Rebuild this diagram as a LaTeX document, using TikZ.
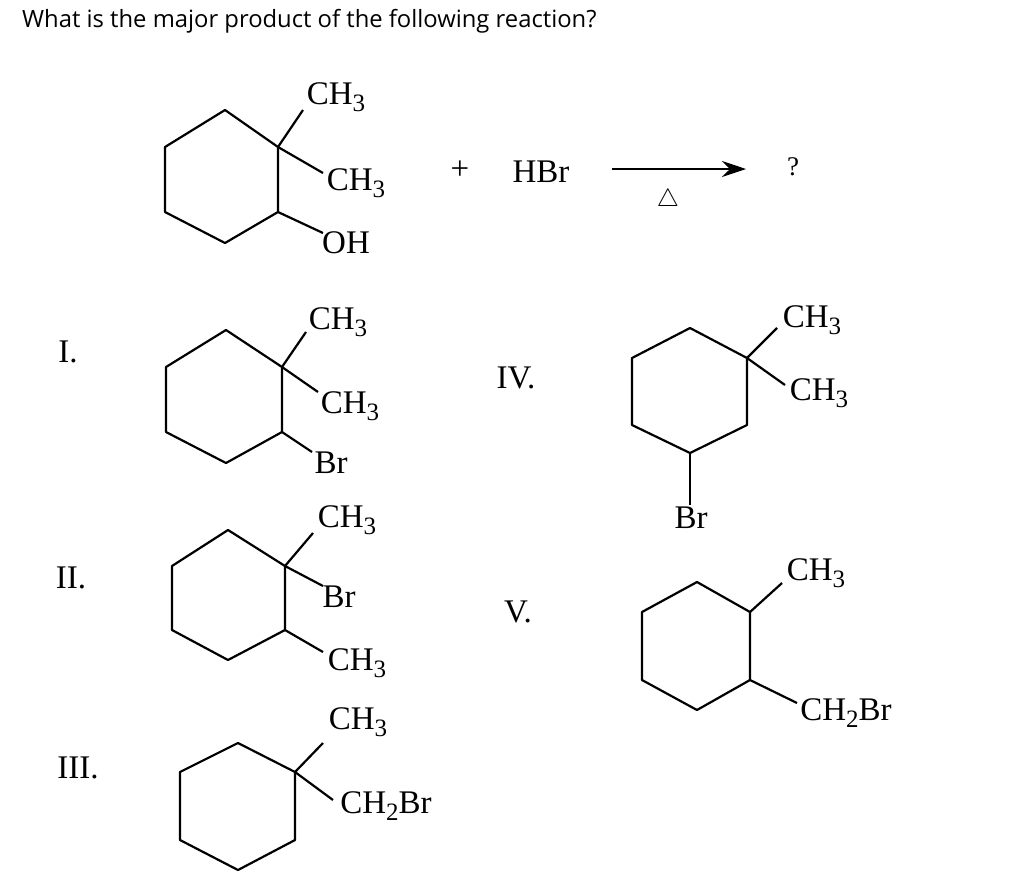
\documentclass[tikz,border=0pt]{standalone}
\usetikzlibrary{arrows.meta}
\usepackage{fontspec}
\setmainfont{Liberation Serif}
\newfontfamily\titlefont{Open Sans}
\newcommand\sub[1]{\raisebox{-0.22em}{\fontsize{25}{25}\selectfont #1}}
\tikzset{
  bond/.style={line width=2.2pt, line join=round},
  lab/.style={inner sep=0pt, font=\fontsize{33}{33}\selectfont},
  num/.style={inner sep=0pt, font=\fontsize{33}{33}\selectfont},
}
\begin{document}
\begin{tikzpicture}[x=1pt,y=-1pt]
\useasboundingbox (0,0) rectangle (1024,879);
\node[anchor=west, inner sep=0pt, font=\titlefont\fontsize{23.8}{23.8}\selectfont] (title) at (22,21) {What is the major product of the following reaction?};

% reactant
\draw[bond] (225,110)--(278,147)--(278,212)--(225,243)--(165,212)--(165,147)--cycle;
\draw[bond] (278,147)--(303,110);
\draw[bond] (278,147)--(323,173);
\draw[bond] (278,212)--(323,233);
\node[lab] (r1) at (336,97) {CH\sub{3}};
\node[lab] (r2) at (356,183) {CH\sub{3}};
\node[lab] (r3) at (346,243) {OH};
\node[lab] (plus) at (460,170) {+};
\node[lab] (hbr) at (541,172) {HBr};
\coordinate (a1) at (612,169);
\coordinate (a2) at (746,169);
\draw[line width=2.2pt,-{Stealth[length=24pt,width=16pt,inset=8pt]}] (a1)--(a2);
\node[inner sep=0pt, font=\fontsize{24}{24}\selectfont] (heat) at (668,200) {$\triangle$};
\node[lab, font=\fontsize{27}{27}\selectfont] (q) at (793,167) {?};

% I
\draw[bond] (226,330)--(282,367)--(282,432)--(226,463)--(166,432)--(166,367)--cycle;
\draw[bond] (282,367)--(306,332);
\draw[bond] (282,367)--(318,392);
\draw[bond] (282,432)--(312,452);
\node[lab] (i1) at (338,322) {CH\sub{3}};
\node[lab] (i2) at (350,406) {CH\sub{3}};
\node[lab] (i3) at (331,463) {Br};
\node[num] (nI) at (68,352) {I.};

% II
\draw[bond] (228,530)--(285,566)--(285,630)--(228,660)--(172,630)--(172,566)--cycle;
\draw[bond] (285,566)--(313,533);
\draw[bond] (285,566)--(323,586);
\draw[bond] (285,630)--(323,652);
\node[lab] (ii1) at (347,520) {CH\sub{3}};
\node[lab] (ii2) at (339,597) {Br};
\node[lab] (ii3) at (357,663) {CH\sub{3}};
\node[num] (nII) at (71,578) {II.};

% III
\draw[bond] (238,743)--(295,772)--(295,840)--(238,870)--(180,840)--(180,772)--cycle;
\draw[bond] (295,772)--(323,743);
\draw[bond] (295,772)--(333,800);
\node[lab] (iii1) at (358,722) {CH\sub{3}};
\node[lab] (iii2) at (386,806) {CH\sub{2}Br};
\node[num] (nIII) at (78,768) {III.};

% IV
\draw[bond] (690,328)--(747,358)--(747,425)--(690,453)--(632,425)--(632,358)--cycle;
\draw[bond] (747,358)--(777,328);
\draw[bond] (747,358)--(785,385);
\draw[bond] (690,453)--(690,505);
\node[lab] (iv1) at (812,320) {CH\sub{3}};
\node[lab] (iv2) at (819,393) {CH\sub{3}};
\node[lab] (iv3) at (691,518) {Br};
\node[num] (nIV) at (516,378) {IV.};

% V
\draw[bond] (697,582)--(750,612)--(750,680)--(697,710)--(642,680)--(642,612)--cycle;
\draw[bond] (750,612)--(782,583);
\draw[bond] (750,680)--(797,703);
\node[lab] (v1) at (816,573) {CH\sub{3}};
\node[lab] (v2) at (846,713) {CH\sub{2}Br};
\node[num] (nV) at (518,612) {V.};
\end{tikzpicture}
\end{document}
